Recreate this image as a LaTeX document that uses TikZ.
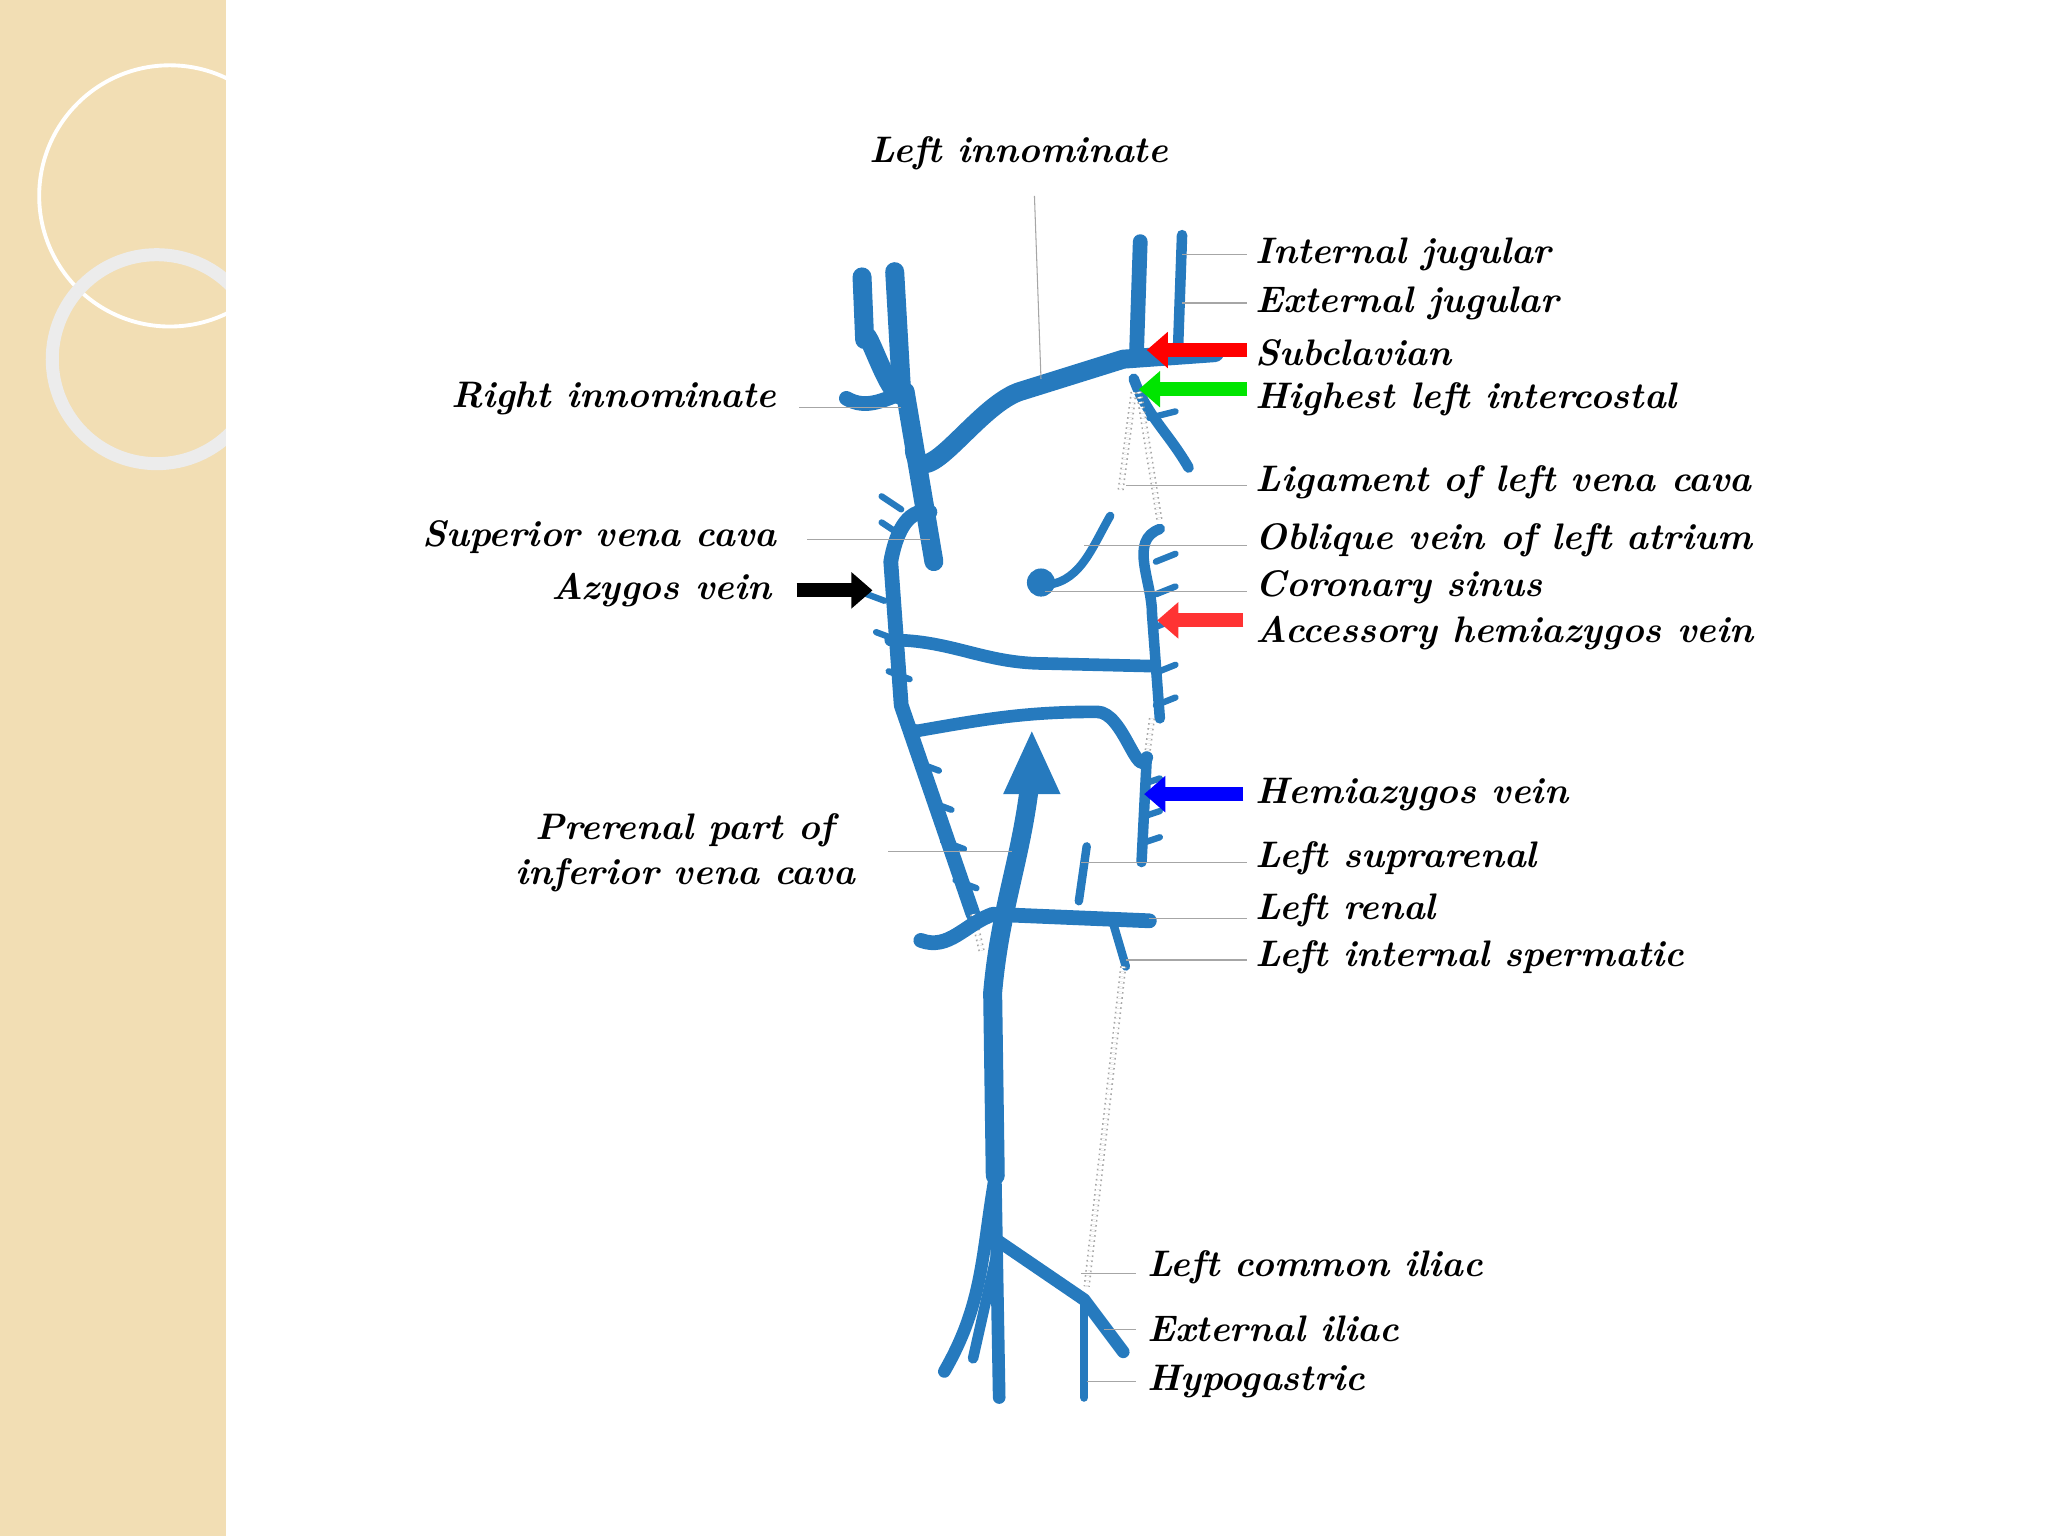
\documentclass[tikz,border=0pt]{standalone}
\usetikzlibrary{arrows.meta}
\definecolor{vein}{RGB}{38,122,190}
\definecolor{strip}{RGB}{242,222,180}
\tikzset{
  vessel/.style={draw=vein, line width=#1*0.6pt, line cap=round, line join=round},
  vessel/.default=9,
  dotted vessel/.style={draw=gray!70, densely dotted, line width=0.45pt, double distance=0.9pt},
  lead/.style={draw=gray!70, line width=0.3pt},
  lbl/.style={font=\bfseries\itshape, scale=1.05, inner sep=1pt},
  pointer/.style={-{Triangle[length=6pt,width=10pt]}, line width=4pt}
}
\begin{document}
\begin{tikzpicture}[x=0.013061cm, y=-0.013061cm]
\useasboundingbox (0,0) rectangle (1568,1176);
% side strip
\fill[strip] (0,0) rectangle (173,1176);
\begin{scope}
\clip (0,0) rectangle (173,1176);
\draw[white, line width=1.1pt] (130,150) circle (100);
\draw[white!85!gray, line width=3.7pt] (120,275) circle (80);
\end{scope}
% veins
\draw[vessel] (660,212) -- (662,260) to[out=90,in=-120] (693,300) -- (715,430);
\draw[vessel] (685,208) -- (690,295);
\draw[vessel=7] (693,300) to[out=200,in=-30] (648,305);
\draw[vessel] (700,345) to[out=-80,in=200] (780,300) -- (860,275) -- (930,270);
\draw[vessel=7] (873,185) -- (870,275);
\draw[vessel=5] (905,180) -- (902,265);
\draw[vessel=5] (868,290) to[out=-70,in=120] (910,358);
\draw[vessel=3] (880,320) -- (900,315);
\draw[dotted vessel] (872,300) -- (888,400);
\draw[dotted vessel] (858,375) -- (868,300);
\draw[vessel=4] (797,448) to[out=0,in=-120] (850,395);
\fill[vein] (797,446) circle (4pt);
% azygos
\draw[vessel=7] (712,392) to[out=170,in=80] (682,430) -- (690,540) -- (745,700);
\draw[dotted vessel] (745,700) -- (752,730);
\foreach \yy in {380,400} \draw[vessel=3] (690,\yy+10) -- (675,\yy);
\foreach \yy in {460,490,520,560,590,620,650,680}
  \draw[vessel=3] ({690+(\yy-500)*0.32},\yy) -- ++(-16,-6);
% accessory hemiazygos
\draw[vessel=5] (888,405) to[out=-160,in=90] (882,470) -- (888,550);
\foreach \yy in {430,455,480,515,540} \draw[vessel=3] (885,\yy) -- ++(15,-6);
\draw[vessel=6] (682,490) to[out=0,in=180] (800,508) -- (882,510);
\draw[vessel=6] (700,560) to[out=10,in=180] (840,545) to[out=0,in=-110] (878,580);
\draw[dotted vessel] (882,550) -- (878,580);
% hemiazygos
\draw[vessel=5] (878,580) -- (874,660);
\foreach \yy in {600,625,645} \draw[vessel=3] (876,\yy) -- ++(12,-4);
% inferior vena cava
\draw[vessel=9] (790,585) to[out=-95,in=85] (760,760) -- (762,900);
\fill[vein] (790,560) -- (812,608) -- (768,608) -- cycle;
\draw[vessel=7] (705,720) to[out=-20,in=200] (760,700) -- (880,705);
\draw[vessel=4] (826,690) -- (832,648);
\draw[vessel=4] (852,706) -- (862,740);
\draw[dotted vessel] (860,740) -- (832,985);
\draw[vessel=6] (762,900) -- (765,1070);
\draw[vessel=6] (762,900) to[out=-100,in=60] (723,1050);
\draw[vessel=5] (763,960) -- (745,1040);
\draw[vessel=6] (764,950) -- (830,995) -- (860,1035);
\draw[vessel=4] (830,995) -- (830,1070);
% leader lines
\draw[lead] (792,150) -- (797,290);
\draw[lead] (905,195) -- (955,195);
\draw[lead] (905,232) -- (955,232);
\draw[lead] (612,312) -- (690,312);
\draw[lead] (862,372) -- (955,372);
\draw[lead] (618,413) -- (712,413);
\draw[lead] (830,418) -- (955,418);
\draw[lead] (800,453) -- (955,453);
\draw[lead] (680,652) -- (775,652);
\draw[lead] (828,660) -- (955,660);
\draw[lead] (880,703) -- (955,703);
\draw[lead] (862,735) -- (955,735);
\draw[lead] (828,975) -- (870,975);
\draw[lead] (845,1018) -- (870,1018);
\draw[lead] (832,1058) -- (870,1058);
% arrows
\draw[pointer, red] (955,268) -- (878,268);
\draw[pointer, green!90!black] (955,298) -- (872,298);
\draw[pointer, black] (610,452) -- (668,452);
\draw[pointer, red!80] (952,475) -- (886,475);
\draw[pointer, blue] (952,608) -- (876,608);
% labels
\node[lbl] (li) at (780,117) {Left innominate};
\node[lbl, anchor=west] (ij) at (958,195) {Internal jugular};
\node[lbl, anchor=west] (ej) at (958,232) {External jugular};
\node[lbl, anchor=west] (sc) at (958,270) {Subclavian};
\node[lbl, anchor=west] (hi) at (958,306) {Highest left intercostal};
\node[lbl, anchor=east] (ri) at (598,305) {Right innominate};
\node[lbl, anchor=west] (lv) at (958,369) {Ligament of left vena cava};
\node[lbl, anchor=east] (sv) at (598,411) {Superior vena cava};
\node[lbl, anchor=west] (ob) at (958,414) {Oblique vein of left atrium};
\node[lbl, anchor=east] (az) at (594,452) {Azygos vein};
\node[lbl, anchor=west] (cs) at (958,450) {Coronary sinus};
\node[lbl, anchor=west] (ah) at (958,485) {Accessory hemiazygos vein};
\node[lbl, anchor=west] (hz) at (958,608) {Hemiazygos vein};
\node[lbl, anchor=east, align=center] (pr) at (658,653) {Prerenal part of\\inferior vena cava};
\node[lbl, anchor=west] (ls) at (958,657) {Left suprarenal};
\node[lbl, anchor=west] (lr) at (958,697) {Left renal};
\node[lbl, anchor=west] (lis) at (958,733) {Left internal spermatic};
\node[lbl, anchor=west] (lci) at (875,970) {Left common iliac};
\node[lbl, anchor=west] (ei) at (875,1017) {External iliac};
\node[lbl, anchor=west] (hy) at (875,1058) {Hypogastric};
\end{tikzpicture}
\end{document}
